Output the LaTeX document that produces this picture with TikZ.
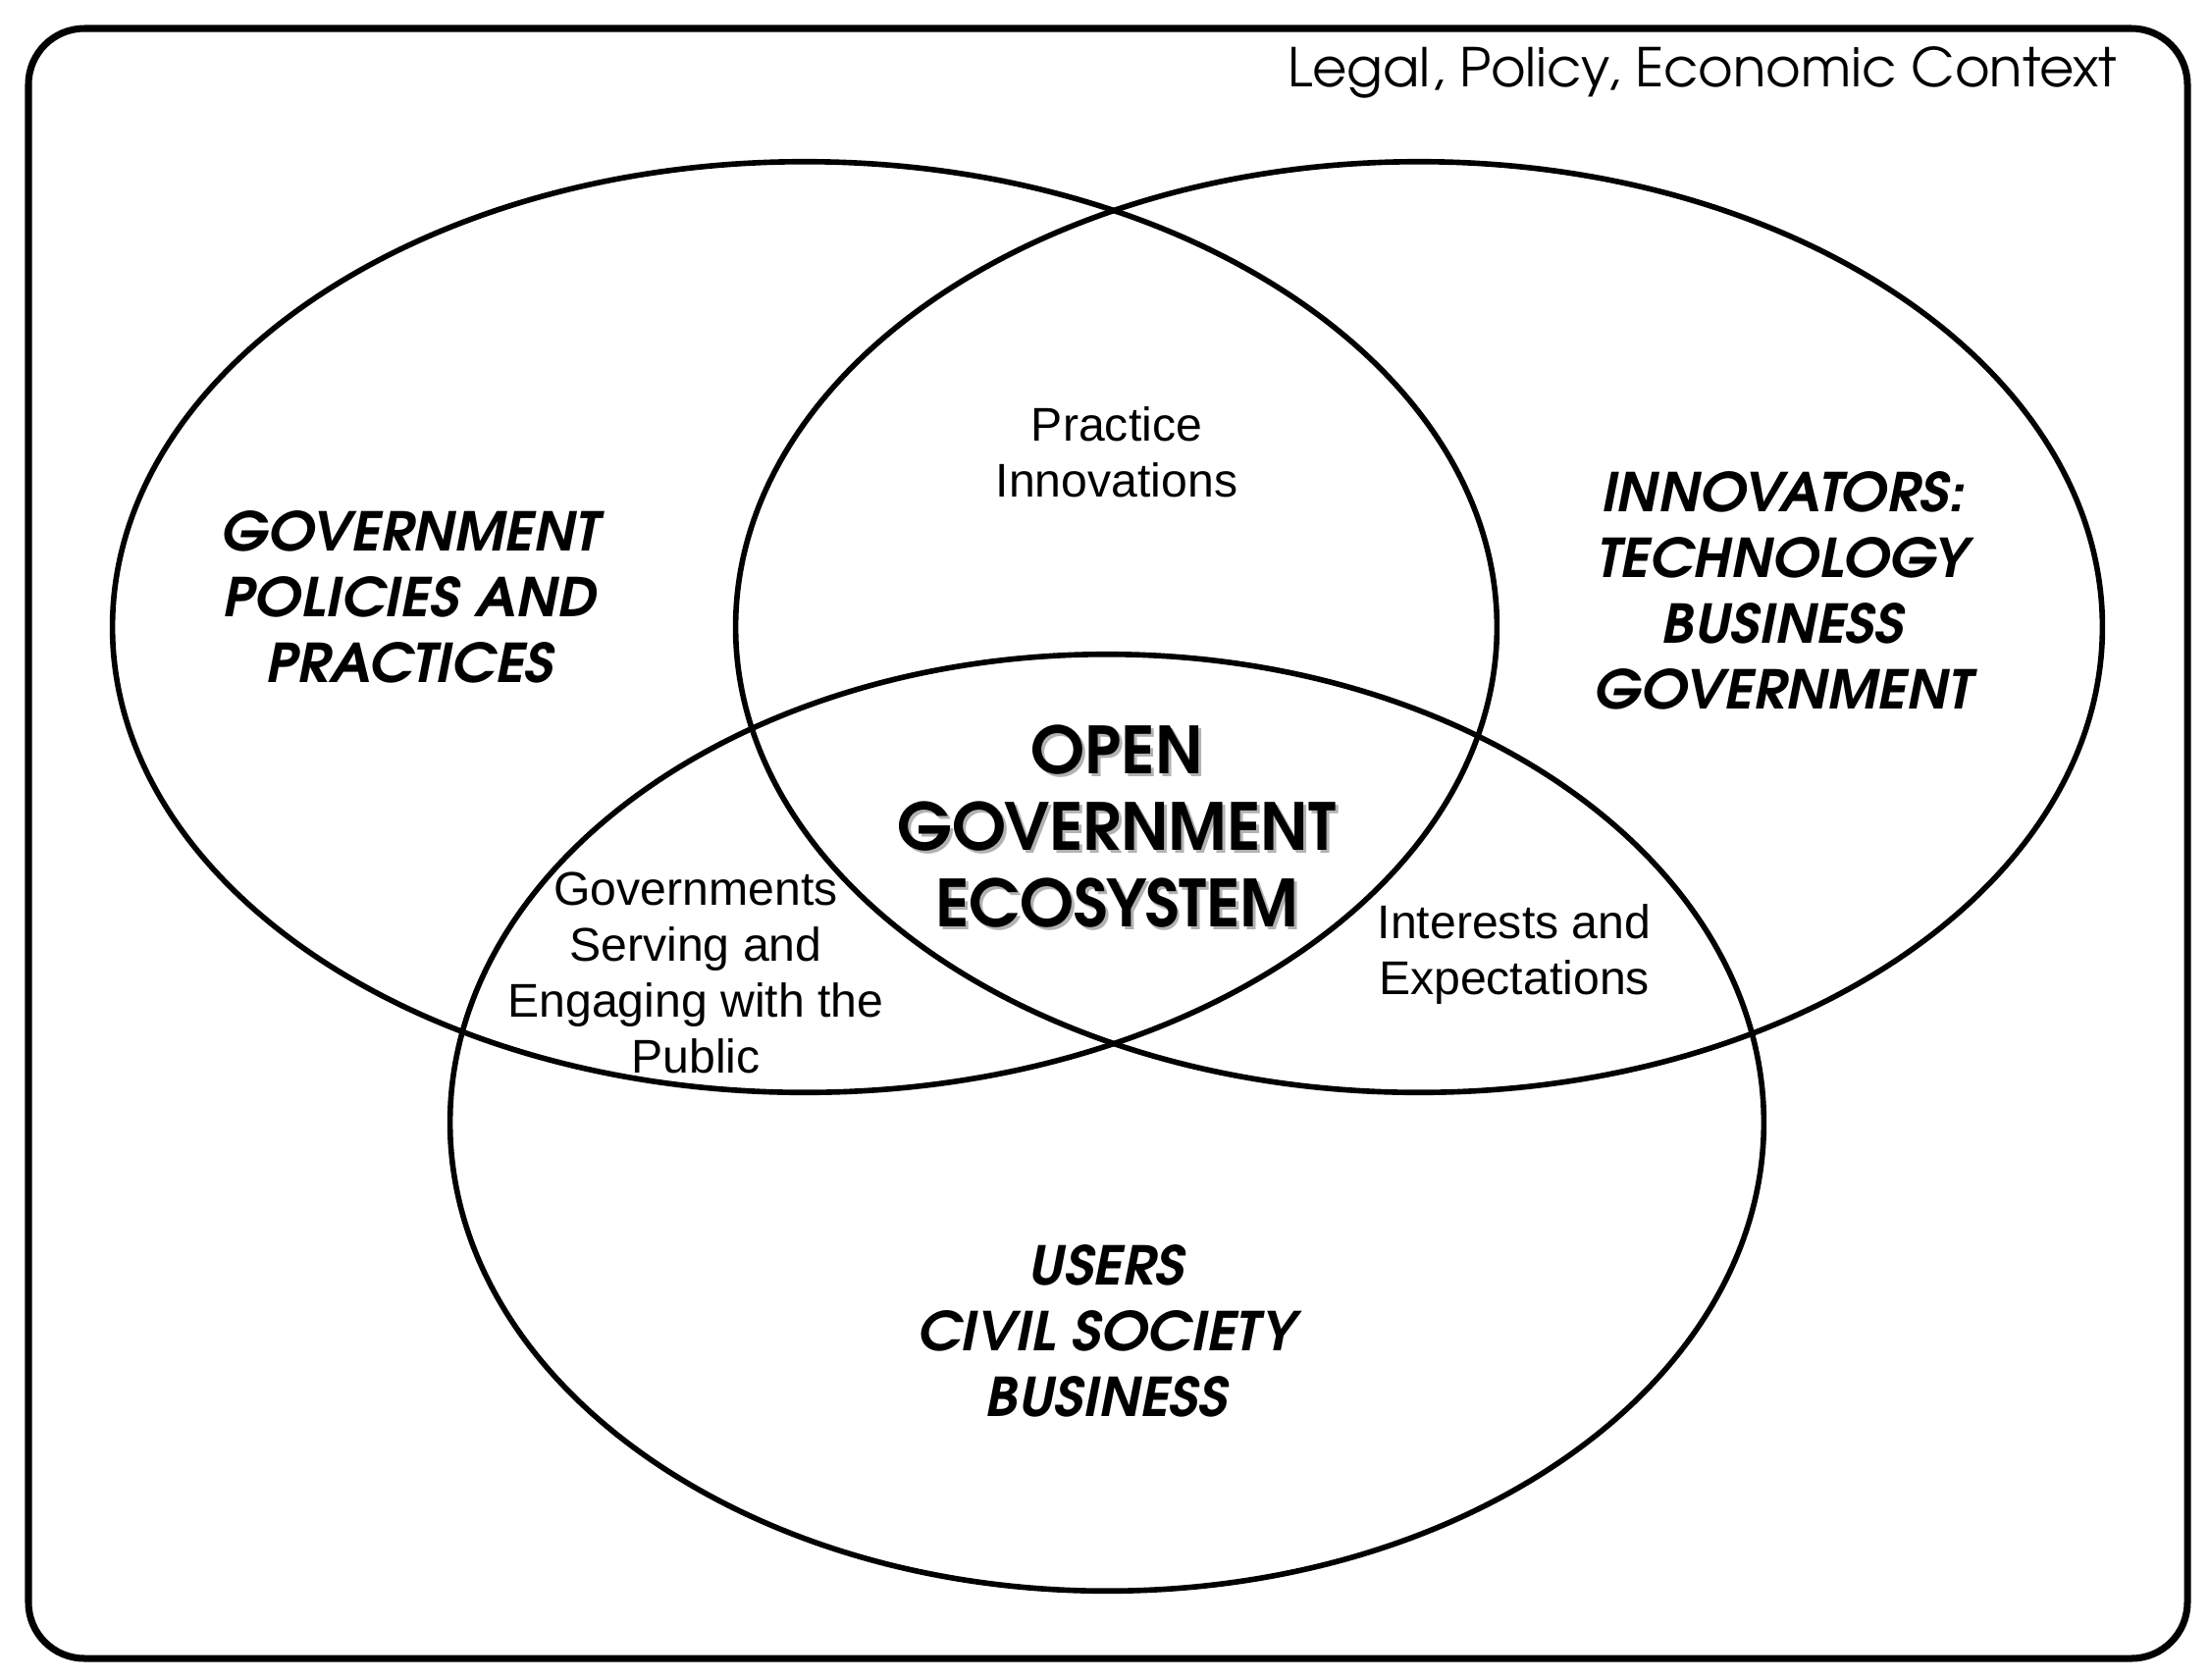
\documentclass[tikz,border=0pt]{standalone}
\usepackage{fontspec}
\setmainfont{Liberation Sans}
\newfontfamily\gothic{TeX Gyre Adventor}
\newfontfamily\gothicwide[FakeStretch=1.045]{TeX Gyre Adventor}
\begin{document}
\begin{tikzpicture}[x=0.01cm,y=-0.01cm, line join=round]
\tikzset{
 venn/.style={line width=1.6pt},
 frame/.style={line width=2pt, rounded corners=0.57cm},
 biglabel/.style={font=\gothicwide\bfseries\itshape\fontsize{15.5}{19.06}\selectfont, align=center, anchor=north, inner sep=0pt},
 smalllabel/.style={font=\fontsize{13.7}{16.25}\selectfont, align=center, anchor=north, inner sep=0pt},
 corelabel/.style={font=\gothic\bfseries\fontsize{18.8}{22.2}\selectfont, align=center, anchor=north, inner sep=0pt},
 ctxlabel/.style={font=\gothic\fontsize{15.5}{19}\selectfont, anchor=north east, inner sep=0pt},
}
\useasboundingbox (0,0) rectangle (2251,1711);
\fill[white] (0,0) rectangle (2251,1711);
\draw[frame] (29,29) rectangle (2229,1690);
\draw[venn] (820,639) ellipse [x radius=7.05cm, y radius=4.74cm];
\draw[venn] (1446,639) ellipse [x radius=6.96cm, y radius=4.74cm];
\draw[venn] (1128,1144) ellipse [x radius=6.69cm, y radius=4.77cm];
\node[ctxlabel] (context) at (2158,47) {Legal, Policy, Economic Context};
\node[biglabel] (gov) at (418,520) {GOVERNMENT\\POLICIES AND\\PRACTICES};
\node[biglabel] (innov) at (1817,480) {INNOVATORS:\\TECHNOLOGY\\BUSINESS\\GOVERNMENT};
\node[biglabel] (users) at (1128,1268) {USERS\\CIVIL SOCIETY\\BUSINESS};
\node[corelabel, text=black!30] (coreshadow) at (1141,741) {OPEN\\GOVERNMENT\\ECOSYSTEM};
\node[corelabel] (core) at (1138,738) {OPEN\\GOVERNMENT\\ECOSYSTEM};
\node[smalllabel] (practice) at (1138,414) {Practice\\Innovations};
\node[smalllabel] (serving) at (709,888) {Governments\\Serving and\\Engaging with the\\Public};
\node[smalllabel] (interests) at (1543,921) {Interests and\\Expectations};
\end{tikzpicture}
\end{document}
